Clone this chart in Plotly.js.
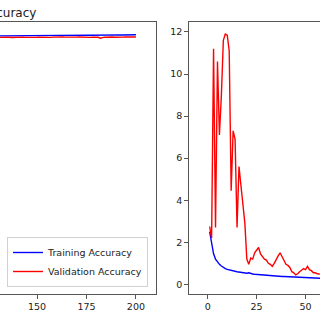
<!DOCTYPE html>
<html>
<head>
<meta charset="utf-8">
<script src="https://cdn.plot.ly/plotly-3.0.1.min.js"></script>
<style>html,body{margin:0;padding:0;overflow:hidden;background:#fff}#chart{width:320px;height:320px}</style>
</head>
<body>
<div id="chart"></div>
<script>
// Left panel (accuracy), visible epochs 130..200
const accEpochs = [];
for (let e = 130; e <= 200; e++) accEpochs.push(e);
const trainAcc = [
0.9886,0.9887,0.9886,0.9888,0.9889,0.9888,0.9890,0.9889,0.9891,0.9890,
0.9891,0.9892,0.9891,0.9893,0.9892,0.9893,0.9894,0.9893,0.9895,0.9894,
0.9895,0.9896,0.9895,0.9897,0.9896,0.9898,0.9897,0.9898,0.9899,0.9898,
0.9900,0.9899,0.9901,0.9900,0.9902,0.9901,0.9903,0.9902,0.9903,0.9904,
0.9903,0.9905,0.9904,0.9906,0.9905,0.9906,0.9907,0.9906,0.9908,0.9907,
0.9909,0.9908,0.9910,0.9909,0.9911,0.9910,0.9912,0.9911,0.9913,0.9912,
0.9914,0.9913,0.9915,0.9914,0.9916,0.9915,0.9917,0.9916,0.9918,0.9917,
0.9918];
const valAcc = [
0.9838,0.9842,0.9835,0.9840,0.9844,0.9839,0.9843,0.9837,0.9841,0.9845,
0.9840,0.9836,0.9842,0.9846,0.9841,0.9838,0.9843,0.9847,0.9842,0.9839,
0.9844,0.9848,0.9843,0.9840,0.9845,0.9849,0.9844,0.9841,0.9846,0.9850,
0.9845,0.9842,0.9847,0.9851,0.9846,0.9843,0.9848,0.9852,0.9847,0.9838,
0.9846,0.9850,0.9845,0.9841,0.9847,0.9851,0.9846,0.9840,0.9848,0.9852,
0.9847,0.9843,0.9815,0.9835,0.9848,0.9844,0.9850,0.9854,0.9849,0.9845,
0.9851,0.9855,0.9850,0.9846,0.9852,0.9856,0.9851,0.9847,0.9853,0.9857,
0.9852];

// Right panel (loss), visible epochs 1..58
const lossEpochs = [];
for (let e = 1; e <= 58; e++) lossEpochs.push(e);
const trainLoss = [
2.50,1.85,1.45,1.20,1.05,0.95,0.87,0.80,0.75,0.71,
0.68,0.66,0.64,0.62,0.60,0.58,0.57,0.56,0.55,0.53,
0.55,0.50,0.49,0.48,0.47,0.46,0.45,0.44,0.43,0.42,
0.415,0.41,0.40,0.395,0.39,0.385,0.38,0.375,0.37,0.365,
0.36,0.355,0.35,0.345,0.34,0.335,0.33,0.325,0.32,0.318,
0.315,0.31,0.305,0.30,0.298,0.295,0.29,0.285];
const valLoss = [
2.75,2.20,11.20,2.70,10.60,7.10,9.00,11.60,11.90,11.85,
11.10,4.45,7.30,6.90,2.70,5.60,4.70,3.80,2.90,1.20,
0.95,1.25,1.20,1.50,1.65,1.75,1.45,1.30,1.20,1.15,
1.00,0.95,0.85,1.00,1.20,1.35,1.50,1.30,1.10,0.95,
0.90,0.80,0.60,0.55,0.45,0.50,0.60,0.70,0.75,0.70,
0.85,0.70,0.65,0.55,0.55,0.50,0.50,0.48];

const accTitle = "Training and Validation Accuracy";
const legendNames = ["Training Accuracy", "Validation Accuracy"];

const FONT = "DejaVu Sans, sans-serif";
const frame = "#555";

const traces = [
  {x: accEpochs, y: trainAcc, mode: "lines", name: legendNames[0], line: {color: "#0000ff", width: 1.4}, xaxis: "x", yaxis: "y"},
  {x: accEpochs, y: valAcc, mode: "lines", name: legendNames[1], line: {color: "#ff0000", width: 1.4}, xaxis: "x", yaxis: "y"},
  {x: lossEpochs, y: trainLoss, mode: "lines", showlegend: false, line: {color: "#0000ff", width: 1.4}, xaxis: "x2", yaxis: "y2"},
  {x: lossEpochs, y: valLoss, mode: "lines", showlegend: false, line: {color: "#ff0000", width: 1.4}, xaxis: "x2", yaxis: "y2"}
];

const axFont = {family: FONT, size: 9.5, color: "#222"};
const layout = {
  width: 320, height: 320,
  margin: {l: 0, r: 0, t: 0, b: 0},
  paper_bgcolor: "#fff", plot_bgcolor: "#fff",
  showlegend: true,
  legend: {x: 148/320, xanchor: "right", y: 1 - 287/320, yanchor: "bottom",
           bgcolor: "#fff", bordercolor: "#d0d0d0", borderwidth: 1,
           font: {family: FONT, size: 9.5, color: "#222"}, itemwidth: 30, tracegroupgap: 0},
  xaxis: {domain: [0, 155.7/320], range: [131.3, 210], tickvals: [150, 175, 200],
          showgrid: false, zeroline: false, showline: true, mirror: true, linecolor: frame, linewidth: 1,
          ticks: "outside", ticklen: 4, tickcolor: frame, tickfont: axFont, anchor: "y"},
  yaxis: {domain: [1 - 294/320, 1 - 22.3/320], range: [0.2, 1.03], side: "right",
          showgrid: false, zeroline: false, showline: true, mirror: false, linecolor: frame, linewidth: 1,
          ticks: "", showticklabels: false, anchor: "x"},
  xaxis2: {domain: [189.3/320, 1], range: [-9.4, 57.4], tickvals: [0, 25, 50],
           showgrid: false, zeroline: false, showline: true, mirror: true, linecolor: frame, linewidth: 1,
           ticks: "outside", ticklen: 4, tickcolor: frame, tickfont: axFont, anchor: "y2"},
  yaxis2: {domain: [1 - 294/320, 1 - 22.3/320], range: [-0.46, 12.46], tickvals: [0, 2, 4, 6, 8, 10, 12],
           showgrid: false, zeroline: false, showline: true, mirror: false, linecolor: frame, linewidth: 1,
           ticks: "outside", ticklen: 4, tickcolor: frame, tickfont: axFont, anchor: "x2"},
  annotations: [
    {text: accTitle, xref: "paper", yref: "paper", x: 37.5/320, y: 1 - 13/320,
     xanchor: "right", yanchor: "middle", showarrow: false,
     font: {family: FONT, size: 12, color: "#222"}}
  ]
};

Plotly.newPlot("chart", traces, layout, {displayModeBar: false, staticPlot: true});
</script>
</body>
</html>
